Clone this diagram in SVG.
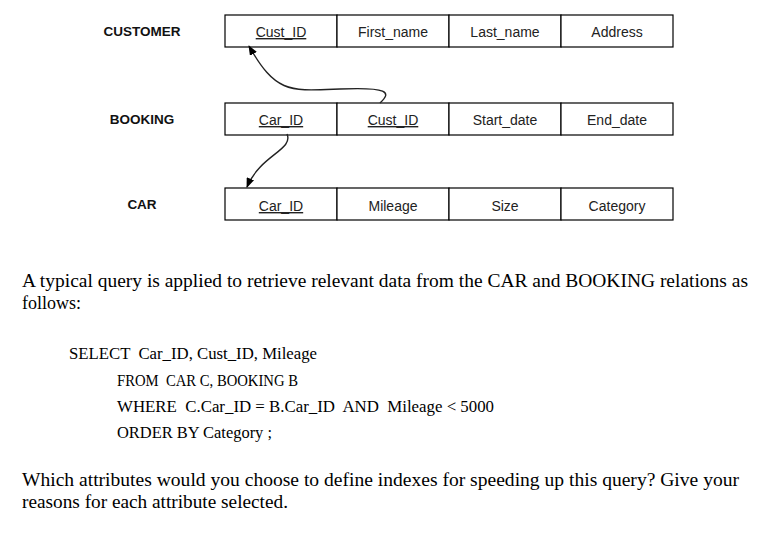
<svg xmlns="http://www.w3.org/2000/svg" width="776" height="542" viewBox="0 0 776 542">
<style>
.c{fill:#fff;stroke:#000;stroke-width:1.2}
.t{font-family:"Liberation Sans",sans-serif;font-size:14px;text-anchor:middle;fill:#222}
.u{text-decoration:underline}
.l{font-family:"Liberation Sans",sans-serif;font-size:13.5px;font-weight:bold;text-anchor:middle;fill:#111}
.p{font-family:"Liberation Serif",serif;font-size:18px;fill:#000}
.q{font-family:"Liberation Serif",serif;font-size:16px;fill:#000;white-space:pre}
.a{fill:none;stroke:#222;stroke-width:1.4}
</style>
<defs><marker id="ah" markerWidth="10" markerHeight="8" refX="9" refY="4" orient="auto" markerUnits="userSpaceOnUse"><path d="M0,0 L10,4 L0,8z" fill="#000"/></marker></defs>
<rect width="776" height="542" fill="#fff"/>
<g id="customer">
<text class="l" x="142" y="36">CUSTOMER</text>
<rect class="c" x="225" y="15" width="112" height="32"/><rect class="c" x="337" y="15" width="112" height="32"/><rect class="c" x="449" y="15" width="112" height="32"/><rect class="c" x="561" y="15" width="112" height="32"/>
<text class="t u" x="281" y="37">Cust_ID</text><text class="t" x="393" y="37">First_name</text><text class="t" x="505" y="37">Last_name</text><text class="t" x="617" y="37">Address</text>
</g>
<g id="booking">
<text class="l" x="142" y="124">BOOKING</text>
<rect class="c" x="225" y="103" width="112" height="32"/><rect class="c" x="337" y="103" width="112" height="32"/><rect class="c" x="449" y="103" width="112" height="32"/><rect class="c" x="561" y="103" width="112" height="32"/>
<text class="t u" x="281" y="125">Car_ID</text><text class="t u" x="393" y="125">Cust_ID</text><text class="t" x="505" y="125">Start_date</text><text class="t" x="617" y="125">End_date</text>
</g>
<g id="car">
<text class="l" x="142" y="209">CAR</text>
<rect class="c" x="225" y="188" width="112" height="32"/><rect class="c" x="337" y="188" width="112" height="32"/><rect class="c" x="449" y="188" width="112" height="32"/><rect class="c" x="561" y="188" width="112" height="32"/>
<text class="t u" x="281" y="211">Car_ID</text><text class="t" x="393" y="211">Mileage</text><text class="t" x="505" y="211">Size</text><text class="t" x="617" y="211">Category</text>
</g>
<g id="connectors">
<path class="a" marker-end="url(#ah)" d="M380,103 C392,92 388,87 340,89 C290,91 276,94 249,46"/>
<path class="a" marker-end="url(#ah)" d="M287,134 C294,150 260,155 247,187"/>
</g>
<g id="text">
<text class="p" x="22" y="287" textLength="726" lengthAdjust="spacingAndGlyphs">A typical query is applied to retrieve relevant data from the CAR and BOOKING relations as</text>
<text class="p" x="22" y="309">follows:</text>
<text class="q" x="69" y="359" textLength="248" lengthAdjust="spacingAndGlyphs">SELECT  Car_ID, Cust_ID, Mileage</text>
<text class="q" x="117" y="386" textLength="181" lengthAdjust="spacingAndGlyphs">FROM  CAR C, BOOKING B</text>
<text class="q" x="117" y="412" textLength="377" lengthAdjust="spacingAndGlyphs">WHERE  C.Car_ID = B.Car_ID  AND  Mileage &lt; 5000</text>
<text class="q" x="117" y="438" textLength="155" lengthAdjust="spacingAndGlyphs">ORDER BY Category ;</text>
<text class="p" x="22" y="486" textLength="717" lengthAdjust="spacingAndGlyphs">Which attributes would you choose to define indexes for speeding up this query?  Give your</text>
<text class="p" x="22" y="508" textLength="266" lengthAdjust="spacingAndGlyphs">reasons for each attribute selected.</text>
</g>
</svg>
